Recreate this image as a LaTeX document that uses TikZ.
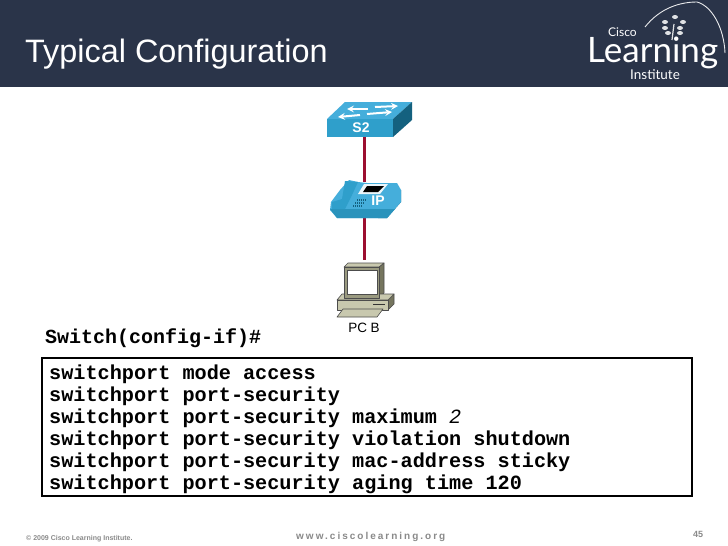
\documentclass[tikz,border=0pt]{standalone}
\usepackage{fontspec}
\setmainfont{Liberation Sans}
\setmonofont{Liberation Mono}
\newfontfamily\logofont{Lato}
\usetikzlibrary{positioning}
\definecolor{headerblue}{HTML}{2A3449}
\definecolor{linkred}{HTML}{9C0F30}
\definecolor{ciscoblue}{HTML}{2F9FCB}
\definecolor{ciscotop}{HTML}{45AEDB}
\definecolor{ciscoside}{HTML}{14617F}
\definecolor{pcfront}{HTML}{9A9A80}
\definecolor{pcbase}{HTML}{C8C8AE}
\definecolor{pcside}{HTML}{75755E}
\definecolor{footgray}{HTML}{8A8A8A}
\tikzset{
  link/.style = {draw = linkred, line width = 3pt},
  device/.style = {inner sep = 0pt, font = \bfseries\fontsize{14}{14}\selectfont, text = white},
  swarrow/.style = {draw = white, line width = 2pt, -stealth},
  pcpart/.style = {draw = black!70, line width = 0.6pt, line join = round},
  leaf/.style = {fill = white!85!headerblue, draw = none},
  footer/.style = {inner sep = 0pt, anchor = base west, text = footgray, font = \bfseries\fontsize{7}{7}\selectfont},
  logotext/.style = {inner sep = 0pt, text = white, anchor = base west},
  cmdtext/.style = {inner sep = 0pt, font = \ttfamily\bfseries\fontsize{20.2}{22}\selectfont}
}
\begin{document}
\begin{tikzpicture}[x = 1pt, y = -1pt]
\useasboundingbox (0,0) rectangle (728,546);
\fill[white] (0,0) rectangle (728,546);
% header
\fill[headerblue] (0,0) rectangle (728,87);
\node[inner sep = 0pt, anchor = base west, text = white, font = \fontsize{32.4}{32.4}\selectfont] (title) at (25,62) {Typical Configuration};
% logo
\draw[white!90!headerblue, line width = 0.9pt] (645,27) .. controls (660,8) and (680,2) .. (697,2) .. controls (712,6) and (724,28) .. (725,53);
\draw[white!85!headerblue, line width = 1.2pt] (672,40) -- (674,24);
\foreach \lx/\ly in {665/22, 675/17, 683/22, 665/28, 680/28, 668/33, 680/33}
  \fill[leaf] (\lx,\ly) ellipse (3pt and 2pt);
\node[logotext, font = \logofont\fontsize{12}{12}\selectfont, text depth = 0pt] (cisco) at (608,36.5) {Cisco};
\node[logotext, font = \logofont\fontsize{35}{35}\selectfont, text height = 24pt, text depth = 6pt] (learning) at (587,62) {Learning};
\node[logotext, font = \logofont\fontsize{13.5}{13.5}\selectfont, text height = 9pt, text depth = 0pt] (institute) at (630,79) {Institute};
% devices
\node[minimum width = 70pt, minimum height = 36pt, inner sep = 0pt] (phone) at (364,200) {};
\node[minimum width = 57pt, minimum height = 58pt, inner sep = 0pt] (pc) at (364,289) {};
\fill[ciscotop] (327,119) -- (345,102) -- (412,102) -- (393,119) -- cycle;
\fill[ciscoside] (393,119) -- (412,102) -- (412,120) -- (393,137) -- cycle;
\node[device, fill = ciscoblue, minimum width = 66pt, minimum height = 18pt] (s2) at (360,128) {\raisebox{0.8pt}{\hspace{2pt}S2}};
\draw[swarrow] (368,109) -- (347,109);
\draw[swarrow] (375,107) -- (398,106);
\draw[swarrow] (360,115) -- (338,117);
\draw[swarrow] (367,114) -- (392,112);
\draw[link] (s2.south -| phone) -- (phone.north);
\draw[link] (phone.south) -- (pc.north);
% phone
\fill[ciscoside] (401,190) -- (401,202) -- (387,218) -- (378,218) -- cycle;
\fill[ciscotop] (331,202) -- (330,210) -- (337,218) -- (387,218) -- (401,202) -- (401,190) -- (397,183) -- (367,183) -- (358,182) -- (349,180) -- (340,190) -- cycle;
\fill[ciscoblue!80!ciscoside] (330,209) -- (337,218) -- (387,218) -- (395,209) -- cycle;
\fill[ciscoblue] (345,181) -- (358,182) -- (352,195) -- (345,209) -- (332,209) -- (332,202) -- (342,199) -- cycle;
\fill[white!90!ciscoblue] (364,184) -- (388,184) -- (380,194) -- (358,194) -- cycle;
\fill[black] (367,186) -- (384,186) -- (378,192) -- (363,192) -- cycle;
\foreach \ky in {0, 1, 2}
  \draw[ciscoside, line width = 1.1pt, densely dotted] (353+\ky*2,206-\ky*3) -- (362+\ky*2,206-\ky*3);
\node[device, font = \bfseries\fontsize{14}{14}\selectfont] (ip) at (378,201) {IP};
% pc
\filldraw[pcpart, fill = pcside] (379,267) -- (384,263) -- (384,293) -- (379,298) -- cycle;
\filldraw[pcpart, fill = pcbase] (344,267) -- (348,263) -- (384,263) -- (379,267) -- cycle;
\filldraw[pcpart, fill = pcside] (388,300) -- (394,294) -- (394,304) -- (388,310) -- cycle;
\filldraw[pcpart, fill = pcbase] (337,300) -- (342,294) -- (394,294) -- (388,300) -- cycle;
\filldraw[pcpart, fill = pcbase] (337,300) rectangle (388,310);
\filldraw[pcpart, fill = pcfront] (344,267) rectangle (379,298);
\filldraw[pcpart, fill = white] (347,270) rectangle (377,294);
\filldraw[pcpart, fill = pcbase] (343,309) -- (383,309) -- (377,317) -- (337,317) -- cycle;
\draw[black!80, line width = 0.7pt] (373,304) -- (385,304);
\node[inner sep = 0pt, font = \fontsize{13.5}{13.5}\selectfont, below = 5pt of pc] (pclabel) {PC B};
% commands
\node[cmdtext, font = \ttfamily\bfseries\fontsize{20}{22}\selectfont, anchor = base west] (prompt) at (45,343) {Switch(config-if)\#};
\node[draw = black, line width = 2.4pt, anchor = north west, minimum width = 650pt, minimum height = 137.6pt, inner sep = 0pt] (configbox) at (41,357) {};
\node[cmdtext, align = left, right = 8pt of configbox.west, yshift = -2pt] (config) {%
switchport mode access\\
switchport port-security\\
switchport port-security maximum {\mdseries\itshape 2}\\
switchport port-security violation shutdown\\
switchport port-security mac-address sticky\\
switchport port-security aging time 120};
% footer
\node[footer] (copyright) at (26,540) {© 2009 Cisco Learning Institute.};
\node[footer, font = \bfseries\addfontfeature{LetterSpace=20}\fontsize{10}{10}\selectfont] (website) at (296,539) {www.ciscolearning.org};
\node[footer, font = \bfseries\fontsize{9}{9}\selectfont] (pagenum) at (693,537) {45};
\end{tikzpicture}
\end{document}
